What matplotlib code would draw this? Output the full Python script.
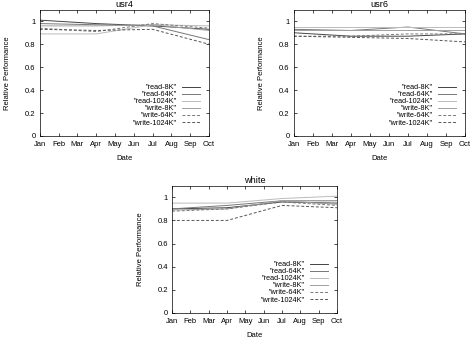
import matplotlib
matplotlib.use("Agg")
import matplotlib.pyplot as plt

plt.rcParams['font.family'] = ['Liberation Sans', 'DejaVu Sans']
plt.rcParams['font.size'] = 5.5

months = ["Jan", "Feb", "Mar", "Apr", "May", "Jun", "Jul", "Aug", "Sep", "Oct"]
# measurements taken in Jan, Apr, Jul, Oct (month index)
sample_idx = [0, 3, 6, 9]

series_names = ['"read-8K"', '"read-64K"', '"read-1024K"',
                '"write-8K"', '"write-64K"', '"write-1024K"']

usr4 = [
    [1.01, 0.98, 0.96, 0.93],
    [0.98, 0.97, 0.96, 0.84],
    [0.89, 0.89, 0.97, 0.96],
    [0.96, 0.96, 0.97, 0.92],
    [0.94, 0.91, 0.98, 0.94],
    [0.93, 0.92, 0.93, 0.80],
]
usr6 = [
    [0.90, 0.87, 0.87, 0.89],
    [0.93, 0.92, 0.95, 0.89],
    [0.95, 0.95, 0.95, 0.95],
    [0.92, 0.92, 0.92, 0.92],
    [0.87, 0.87, 0.89, 0.89],
    [0.87, 0.86, 0.85, 0.82],
]
white = [
    [0.90, 0.91, 0.96, 0.95],
    [0.90, 0.93, 0.97, 0.97],
    [0.95, 0.95, 0.99, 1.01],
    [0.89, 0.90, 0.97, 0.94],
    [0.88, 0.90, 0.96, 0.93],
    [0.80, 0.80, 0.93, 0.91],
]

styles = [
    dict(color="#444444", ls="-"),
    dict(color="#777777", ls="-"),
    dict(color="#bbbbbb", ls="-"),
    dict(color="#a0a0a0", ls="-"),
    dict(color="#777777", ls=(0, (3, 2))),
    dict(color="#555555", ls=(0, (3, 2))),
]

fig = plt.figure(figsize=(4.74, 3.39), dpi=100)
boxes = [
    ("usr4", usr4, [0.084, 0.599, 0.357, 0.372]),
    ("usr6", usr6, [0.620, 0.599, 0.361, 0.372]),
    ("white", white, [0.363, 0.077, 0.348, 0.375]),
]

for title, data, rect in boxes:
    ax = fig.add_axes(rect)
    for name, vals, st in zip(series_names, data, styles):
        ax.plot(sample_idx, vals, lw=0.7, label=name, **st)
    ax.set_xlim(0, 9)
    ax.set_ylim(0, 1.1)
    ax.set_xticks(range(len(months)))
    ax.set_xticklabels(months)
    ax.set_yticks([0, 0.2, 0.4, 0.6, 0.8, 1])
    ax.set_yticklabels(["0", "0.2", "0.4", "0.6", "0.8", "1"])
    ax.tick_params(direction="in", top=True, right=True, length=2,
                   width=0.5)
    ax.tick_params(axis="x", pad=3.5)
    ax.tick_params(axis="y", pad=3)
    for sp in ax.spines.values():
        sp.set_linewidth(0.5)
    ax.set_title(title, pad=2)
    ax.set_xlabel("Date", labelpad=5)
    ax.set_ylabel("Relative Performance", labelpad=10)
    ax.legend(loc="lower right", frameon=False, markerfirst=False,
              fontsize=5.2, handlelength=2.4, labelspacing=0.0,
              borderaxespad=0.9, handletextpad=0.8)

fig.savefig("out.png", dpi=100)
